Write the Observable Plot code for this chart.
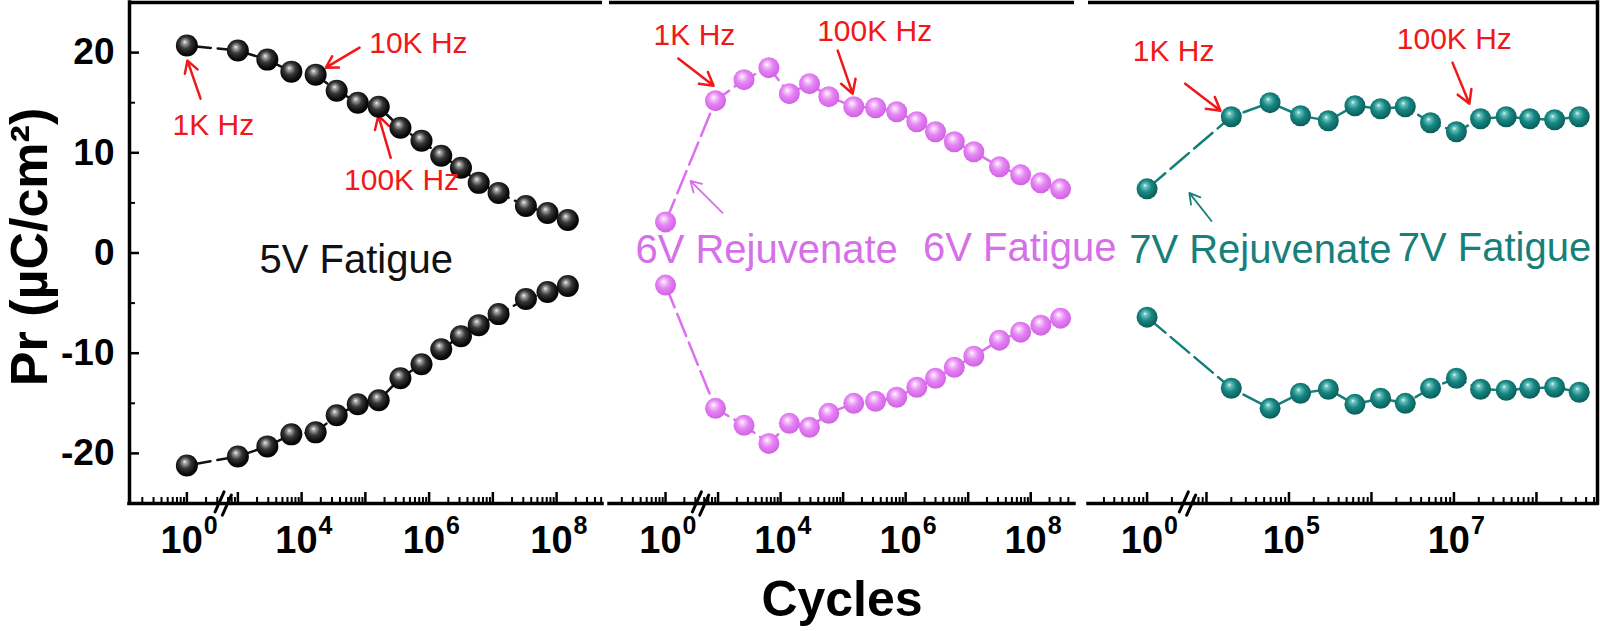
<!DOCTYPE html>
<html>
<head>
<meta charset="utf-8">
<script src="https://cdn.jsdelivr.net/npm/d3@7"></script>
<script src="https://cdn.jsdelivr.net/npm/@observablehq/plot@0.6"></script>
<style>
  html, body { margin: 0; padding: 0; background: #fff; }
  #chart { position: relative; width: 1600px; height: 631px; overflow: hidden; }
  #chart svg { position: absolute; top: 0; }
</style>
</head>
<body>
<div id="chart"></div>
<script>
// Remanent polarization Pr (µC/cm²) versus switching cycles, three stages.
const cycles5V = [1, 1e3, 2.9e3, 6.9e3, 1.66e4, 3.55e4, 7.6e4, 1.62e5, 3.55e5, 7.6e5, 1.55e6, 3.16e6, 6.0e6, 1.23e7, 3.3e7, 7.2e7, 1.5e8];
const pr5VPos  = [20.7, 20.2, 19.3, 18.1, 17.8, 16.2, 15.0, 14.6, 12.5, 11.2, 9.7, 8.5, 7.0, 6.0, 4.7, 4.0, 3.3];
const pr5VNeg  = [-21.2, -20.3, -19.3, -18.1, -17.9, -16.2, -15.1, -14.7, -12.5, -11.1, -9.6, -8.3, -7.2, -6.1, -4.6, -3.9, -3.3];

const cycles6V = [1, 9.1e2, 2.6e3, 6.5e3, 1.38e4, 2.9e4, 5.9e4, 1.48e5, 3.3e5, 7.2e5, 1.51e6, 3.0e6, 6.0e6, 1.23e7, 3.16e7, 6.9e7, 1.45e8, 3.0e8];
const pr6VPos  = [3.1, 15.2, 17.3, 18.5, 15.9, 16.9, 15.6, 14.6, 14.5, 14.1, 13.1, 12.1, 11.1, 10.1, 8.6, 7.8, 7.0, 6.4];
const pr6VNeg  = [-3.2, -15.5, -17.2, -19.0, -17.0, -17.4, -16.0, -15.0, -14.8, -14.4, -13.4, -12.5, -11.4, -10.3, -8.7, -7.9, -7.2, -6.5];

const cycles7V = [1, 2.0e4, 5.9e4, 1.38e5, 3.0e5, 6.3e5, 1.29e6, 2.57e6, 5.2e6, 1.07e7, 2.1e7, 4.3e7, 8.3e7, 1.66e8, 3.3e8];
const pr7VPos  = [6.4, 13.6, 15.0, 13.7, 13.2, 14.7, 14.4, 14.6, 13.0, 12.1, 13.4, 13.6, 13.4, 13.3, 13.6];
const pr7VNeg  = [-6.4, -13.5, -15.5, -14.0, -13.6, -15.1, -14.5, -15.0, -13.5, -12.5, -13.6, -13.7, -13.5, -13.4, -13.9];

// Axis tick labels
const xLabels5V = [1, 1e4, 1e6, 1e8];
const xLabels6V = [1, 1e4, 1e6, 1e8];
const xLabels7V = [1, 1e5, 1e7];
const yLabels = [-20, -10, 0, 10, 20];
const yMinor = [-15, -5, 5, 15];

// Annotations, placed in data units (cycles, µC/cm²)
const notes5V = [
  {label: "1K Hz", c: 2.6, pr: 12.7, kind: "freq"},
  {label: "10K Hz", c: 6.8e5, pr: 20.9, kind: "freq"},
  {label: "100K Hz", c: 3.7e5, pr: 7.2, kind: "freq"},
  {label: "5V Fatigue", c: 7.2e4, pr: -0.75, kind: "stage"}
];
const arrows5V = [
  {c1: 1.64, pr1: 15.4, c2: 1.02, pr2: 19.2, kind: "freq"},
  {c1: 8.1e4, pr1: 20.5, c2: 2.4e4, pr2: 18.5, kind: "freq"},
  {c1: 2.5e5, pr1: 9.5, c2: 1.6e5, pr2: 13.7, kind: "freq"}
];
const notes6V = [
  {label: "1K Hz", c: 2.9, pr: 21.7, kind: "freq"},
  {label: "100K Hz", c: 3.2e5, pr: 22.1, kind: "freq"},
  {label: "6V Rejuvenate", c: 5970, pr: 0.25, kind: "stage"},
  {label: "6V Fatigue", c: 6.67e7, pr: 0.45, kind: "stage"}
];
const arrows6V = [
  {c1: 1.6, pr1: 19.4, c2: 848, pr2: 16.7, kind: "freq"},
  {c1: 8.2e4, pr1: 20.2, c2: 1.42e5, pr2: 15.9, kind: "freq"},
  {c1: 1180, pr1: 4.0, c2: 2.5, pr2: 7.2, kind: "stage"}
];
const notes7V = [
  {label: "1K Hz", c: 2.1, pr: 20.1, kind: "freq"},
  {label: "100K Hz", c: 1.01e7, pr: 21.3, kind: "freq"},
  {label: "7V Rejuvenate", c: 4.5e4, pr: 0.25, kind: "stage"},
  {label: "7V Fatigue", c: 3.1e7, pr: 0.45, kind: "stage"}
];
const arrows7V = [
  {c1: 2.9, pr1: 16.9, c2: 1.48e4, pr2: 14.2, kind: "freq"},
  {c1: 9.6e6, pr1: 19.0, c2: 1.54e7, pr2: 14.9, kind: "freq"},
  {c1: 1.15e4, pr1: 3.2, c2: 6.2e3, pr2: 6.0, kind: "stage"}
];

const RED = "#f01818";
const FONT = "'Liberation Sans', Arial, Helvetica, sans-serif";
const HEIGHT = 631, M_TOP = 2, M_BOTTOM = 128;

const ns = "http://www.w3.org/2000/svg";
// Radial gradient giving the markers a glossy sphere look
function sphereDefs(id, stops) {
  return () => {
    const defs = document.createElementNS(ns, "defs");
    const g = document.createElementNS(ns, "radialGradient");
    g.setAttribute("id", id);
    for (const [k, v] of Object.entries({cx: "0.46", cy: "0.44", r: "0.58", fx: "0.4", fy: "0.33"})) g.setAttribute(k, v);
    for (const [o, c] of stops) {
      const s = document.createElementNS(ns, "stop");
      s.setAttribute("offset", o);
      s.setAttribute("stop-color", c);
      g.appendChild(s);
    }
    defs.appendChild(g);
    return defs;
  };
}

// Two parallel slashes marking the axis break
const slash = {
  draw(context, l) {
    context.moveTo(-4, 0); context.lineTo(-4, -l);
    context.moveTo(4, 0); context.lineTo(4, -l);
  }
};

function panel(cfg) {
  const {cycles, prPos, prNeg, domain, shift, breakU, width, marginLeft, marginRight,
         color, textColor, grad, r, labels, notes, arrows, first, last, center} = cfg;
  // Broken log axis: the 10^0 point sits on its own short segment before the break
  const X = c => (c < 10 ? Math.log10(c) + shift : Math.log10(c));
  const upper = cycles.map((c, i) => ({c, pr: prPos[i]}));
  const lower = cycles.map((c, i) => ({c, pr: prNeg[i]}));
  const inner = width - marginLeft - marginRight;
  const plotH = HEIGHT - M_TOP - M_BOTTOM;

  const ticks = [];
  for (let k = -1; k <= 0; k++) for (let m = 1; m <= 9; m++) {
    const c = m * 10 ** k, u = X(c);
    if (u > domain[0] + 0.02 && u < breakU - 0.04) ticks.push({c, major: m === 1});
  }
  for (let k = 2; k <= 9; k++) for (let m = 1; m <= 9; m++) {
    const c = m * 10 ** k, u = X(c);
    if (u > breakU + 0.04 && u < domain[1] - 0.02) ticks.push({c, major: m === 1});
  }

  const marks = [
    sphereDefs(grad.id, grad.stops),
    Plot.ruleY([25], {stroke: "black", strokeWidth: 3.5}),
    Plot.ruleY([-25], {stroke: "black", strokeWidth: 3.5, strokeLinecap: "square"}),
    first ? Plot.ruleX([domain[0]], {stroke: "black", strokeWidth: 3.5, strokeLinecap: "square"}) : null,
    last ? Plot.ruleX([domain[1]], {stroke: "black", strokeWidth: 3.5, strokeLinecap: "square"}) : null,
    Plot.tickX(ticks.filter(d => d.major), {x: d => X(d.c), insetTop: plotH - 11, stroke: "black", strokeWidth: 2.5}),
    Plot.tickX(ticks.filter(d => !d.major), {x: d => X(d.c), insetTop: plotH - 6, stroke: "black", strokeWidth: 2}),
    Plot.vector([10 ** breakU], {x: X, frameAnchor: "bottom", length: 22, rotate: 24, anchor: "middle",
      shape: slash, stroke: "black", strokeWidth: 3}),
    Plot.text(labels, {x: X, text: () => "10", frameAnchor: "bottom", lineAnchor: "middle", dy: 37, dx: 16,
      textAnchor: "end", fontSize: 38, fontWeight: "bold", fill: "black"}),
    Plot.text(labels, {x: X, text: d => String(Math.round(Math.log10(d))), frameAnchor: "bottom",
      lineAnchor: "middle", dy: 22, dx: 17, textAnchor: "start", fontSize: 25, fontWeight: "bold", fill: "black"}),
    Plot.line(upper, {x: d => X(d.c), y: "pr", stroke: color, strokeWidth: 2.5, strokeDasharray: "24,7"}),
    Plot.line(lower, {x: d => X(d.c), y: "pr", stroke: color, strokeWidth: 2.5, strokeDasharray: "24,7"}),
    Plot.arrow(arrows.filter(d => d.kind === "freq"), {x1: d => X(d.c1), y1: "pr1", x2: d => X(d.c2), y2: "pr2",
      stroke: RED, strokeWidth: 2.5, headLength: 11}),
    Plot.arrow(arrows.filter(d => d.kind === "stage"), {x1: d => X(d.c1), y1: "pr1", x2: d => X(d.c2), y2: "pr2",
      stroke: textColor, strokeWidth: 1.8, headLength: 10}),
    Plot.dot(upper, {x: d => X(d.c), y: "pr", r, fill: `url(#${grad.id})`}),
    Plot.dot(lower, {x: d => X(d.c), y: "pr", r, fill: `url(#${grad.id})`}),
    Plot.text(notes.filter(d => d.kind === "freq"), {x: d => X(d.c), y: "pr", text: "label", fill: RED, fontSize: 30}),
    Plot.text(notes.filter(d => d.kind === "stage"), {x: d => X(d.c), y: "pr", text: "label", fill: textColor, fontSize: 40})
  ];

  if (first) {
    marks.push(
      Plot.tickY(yLabels, {y: d => d, insetRight: inner - 10, stroke: "black", strokeWidth: 2.5}),
      Plot.tickY(yMinor, {y: d => d, insetRight: inner - 6, stroke: "black", strokeWidth: 2}),
      Plot.text(yLabels, {y: d => d, text: d => String(d), frameAnchor: "left", lineAnchor: "middle", dx: -15,
        textAnchor: "end", fontSize: 37, fontWeight: "bold", fill: "black"}),
      Plot.text(["Pr (µC/cm²)"], {frameAnchor: "left", textAnchor: "middle", lineAnchor: "middle",
        dx: -99, dy: -6, rotate: -90, fontSize: 52, fontWeight: "bold", fill: "black"})
    );
  }
  if (center) {
    marks.push(Plot.text(["Cycles"], {frameAnchor: "bottom", textAnchor: "middle", lineAnchor: "middle",
      dy: 96, fontSize: 50, fontWeight: "bold", fill: "black"}));
  }

  const svg = Plot.plot({
    width, height: HEIGHT,
    marginTop: M_TOP, marginBottom: M_BOTTOM, marginLeft, marginRight,
    x: {type: "linear", domain, axis: null},
    y: {type: "linear", domain: [-25, 25], axis: null},
    style: {background: "transparent", overflow: "visible", fontFamily: FONT},
    marks: marks.filter(Boolean)
  });
  svg.style.left = cfg.left + "px";
  svg.style.maxWidth = "none";
  return svg;
}

const chart = document.getElementById("chart");

chart.appendChild(panel({
  left: 0, width: 602, marginLeft: 129, marginRight: 0,
  domain: [1.3, 8.72], shift: 2.2, breakU: 2.77,
  cycles: cycles5V, prPos: pr5VPos, prNeg: pr5VNeg,
  color: "#111", textColor: "#111", r: 11,
  grad: {id: "sphere-black", stops: [["0", "#f4f4f4"], ["0.14", "#a8a8a8"], ["0.45", "#383838"], ["0.8", "#0c0c0c"], ["1", "#000"]]},
  labels: xLabels5V, notes: notes5V, arrows: arrows5V, first: true
}));

chart.appendChild(panel({
  left: 609, width: 465, marginLeft: 0, marginRight: 0,
  domain: [1.264, 8.70], shift: 2.16, breakU: 2.72,
  cycles: cycles6V, prPos: pr6VPos, prNeg: pr6VNeg,
  color: "#dd70ee", textColor: "#d670e8", r: 10.5,
  grad: {id: "sphere-violet", stops: [["0", "#ffffff"], ["0.18", "#f6c8fb"], ["0.5", "#e584f4"], ["1", "#cf5fe3"]]},
  labels: xLabels6V, notes: notes6V, arrows: arrows6V, center: true
}));

chart.appendChild(panel({
  left: 1088, width: 512, marginLeft: 0, marginRight: 3,
  domain: [2.57, 8.74], shift: 3.28, breakU: 3.77,
  cycles: cycles7V, prPos: pr7VPos, prNeg: pr7VNeg,
  color: "#127f7a", textColor: "#18807b", r: 10.5,
  grad: {id: "sphere-teal", stops: [["0", "#e6ffff"], ["0.15", "#71c4bf"], ["0.5", "#178884"], ["1", "#0a5a56"]]},
  labels: xLabels7V, notes: notes7V, arrows: arrows7V, last: true
}));
</script>
</body>
</html>
